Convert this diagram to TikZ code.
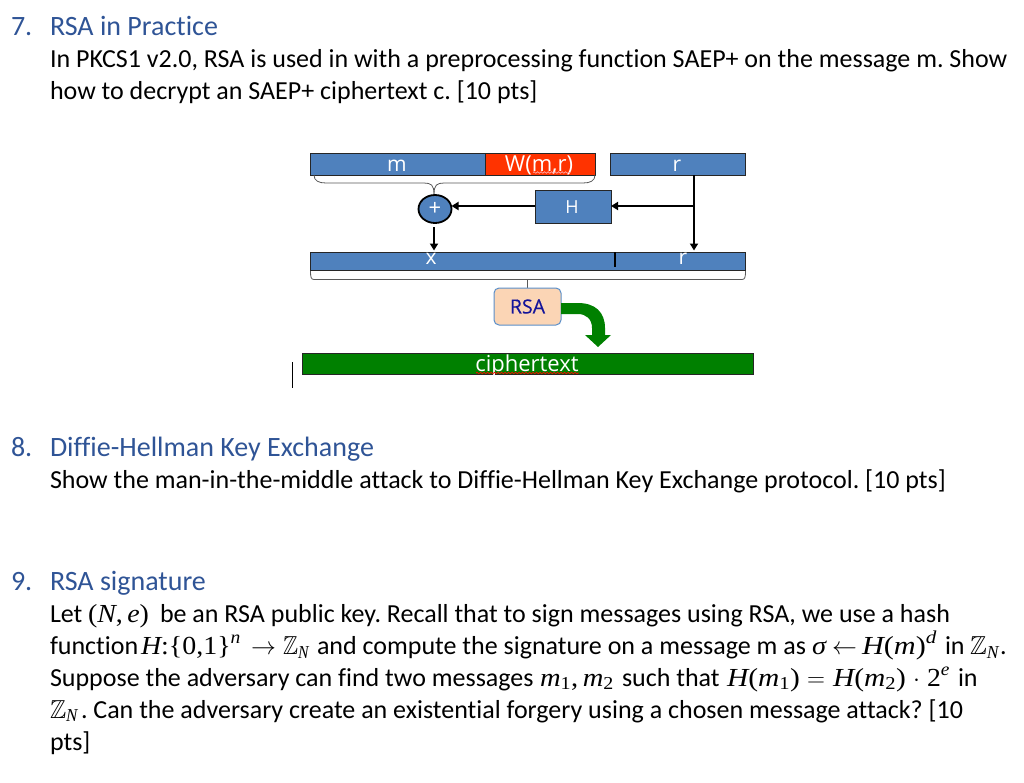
\documentclass[tikz,border=0pt]{standalone}
\usepackage{amsmath,amssymb,graphicx}
\usepackage{fontspec}
\setmainfont{Carlito}[RawFeature={-liga}]
\newfontfamily\boxfont{Open Sans}
\newfontfamily\boldboxfont{Open Sans}[FakeBold=0.35]
\newfontfamily\mfont{Liberation Serif}
\newcommand\mi[1]{\text{\mfont\itshape #1}}
\newcommand\mr[1]{\text{\mfont #1}}
\newcommand\fitw[2]{\resizebox{#1pt}{\height}{$#2$}}
\usetikzlibrary{arrows.meta,decorations.pathmorphing,shapes.geometric,calc}
\definecolor{barblue}{HTML}{4F81BD}
\definecolor{headblue}{HTML}{2F5496}
\definecolor{wred}{HTML}{FF3300}
\definecolor{cgreen}{HTML}{008000}
\definecolor{rsafill}{HTML}{FBD5B5}
\definecolor{rsaedge}{HTML}{5B8FC9}
\definecolor{rsatext}{HTML}{14149A}
\definecolor{bracegray}{HTML}{595959}
\tikzset{
 line/.style={anchor=base west,inner sep=0pt,outer sep=0pt,font=\fontsize{26}{30}\selectfont\frenchspacing,text=black},
 head/.style={anchor=base west,inner sep=0pt,outer sep=0pt,font=\fontsize{28}{32}\selectfont,text=headblue},
 bar/.style={draw=black!85,line width=0.9pt,fill=barblue,inner sep=0pt,outer sep=0pt,anchor=north west},
 lab/.style={inner sep=0pt,outer sep=0pt,anchor=base,font=\boxfont\fontsize{21}{24}\selectfont,text=white},
 conn/.style={line width=1.8pt,draw=black,-{Triangle[length=7pt,width=8pt]}},
 brace/.style={draw=bracegray,line width=0.8pt},
 squiggle/.style={draw=red,line width=0.7pt,decorate,decoration={snake,amplitude=0.8pt,segment length=3.5pt}}
}
\begin{document}
\begin{tikzpicture}[x=1pt,y=-1pt]
\useasboundingbox (0,0) rectangle (1024,782);
% text
\node[head] (n7) at (11,35) {7.};
\node[head] (t7) at (50,35) {RSA in Practice};
\node[line] (l1) at (50,67) {In PKCS1 v2.0, RSA is used in with a preprocessing function SAEP+ on the message m. Show};
\node[line] (l2) at (50,99) {how to decrypt an SAEP+ ciphertext c. [10 pts]};
\node[head] (n8) at (11,456) {8.};
\node[head] (t8) at (50,456) {Diffie-Hellman Key Exchange};
\node[line] (l3) at (50,488) {Show the man-in-the-middle attack to Diffie-Hellman Key Exchange protocol. [10 pts]};
\node[head] (n9) at (11,590) {9.};
\node[head] (t9) at (50,590) {RSA signature};
% line 4
\node[line] (l4a) at (50,622) {Let};
\node[line] (l4b) at (88,622) {\fitw{61}{\mr{(}\mi{N}\mr{,}\,\mi{e}\mr{)}}};
\node[line] (l4c) at (160,622) {be an RSA public key. Recall that to sign messages using RSA, we use a hash};
% line 5
\node[line] (l5a) at (50,654.5) {function};
\node[line] (l5b) at (141,654.5) {\fitw{100}{\mi{H}\mr{:}\mr{\{0,1\}}^{\mi{n}}}};
\node[line] (l5c) at (251,654.5) {$\to$};
\node[line] (l5d) at (283,654.5) {\fitw{26}{\mathbb{Z}_{\mi{N}}}};
\node[line] (l5e) at (317,654.5) {and compute the signature on a message m as};
\node[line] (l5f) at (812,654.5) {\fitw{14}{\mi{σ}}};
\node[line] (l5g) at (832,654.5) {$\leftarrow$};
\node[line] (l5h) at (862,654.5) {\fitw{75}{\mi{H}\mr{(}\mi{m}\mr{)}^{\mi{d}}}};
\node[line] (l5i) at (945,654.5) {in};
\node[line] (l5j) at (970,654.5) {\fitw{29}{\mathbb{Z}_{\mi{N}}}};
\node[line] (l5k) at (1000,654.5) {.};
% line 6
\node[line] (l6a) at (50,686) {Suppose the adversary can find two messages};
\node[line] (l6b) at (540,686) {\fitw{74}{\mi{m}_{\mr{1}}\mr{,}\,\mi{m}_{\mr{2}}}};
\node[line] (l6c) at (622,686) {such that};
\node[line] (l6d) at (727,686) {\fitw{73}{\mi{H}\mr{(}\mi{m}_{\mr{1}}\mr{)}}};
\node[line] (l6e) at (807,686) {$=$};
\node[line] (l6f) at (833,686) {\fitw{73}{\mi{H}\mr{(}\mi{m}_{\mr{2}}\mr{)}}};
\node[line] (l6g) at (913,686) {$\cdot$};
\node[line] (l6h) at (927,686) {\fitw{23}{\mr{2}^{\mi{e}}}};
\node[line] (l6i) at (958,686) {in};
% line 7, 8
\node[line] (l7a) at (50,718) {\fitw{28}{\mathbb{Z}_{\mi{N}}}};
\node[line] (l7b) at (81,718) {. Can the adversary create an existential forgery using a chosen message attack? [10};
\node[line] (l8) at (50,750) {pts]};
% top bars
\node[bar,minimum width=175pt,minimum height=22pt] (mbar) at (310,153) {};
\node[bar,fill=wred,minimum width=110pt,minimum height=22pt] (wbar) at (485,153) {};
\node[bar,minimum width=135pt,minimum height=22pt] (rbar) at (610,153) {};
\node[lab] (mlab) at (397,171) {m};
\node[lab,font=\boxfont\fontsize{22}{24}\selectfont] (wlab) at (539,171) {W(m,r)};
\node[lab] (rlab) at (677,171) {r};
\draw[squiggle,draw=red!35!white] (533,172.5) -- (570,172.5);
% H box, plus
\node[bar,line width=0.5pt,minimum width=76pt,minimum height=33pt] (hbox) at (535,190) {};
\node[lab,font=\boxfont\fontsize{18}{20}\selectfont] (hlab) at (572,213) {H};
\node[ellipse,draw=black,line width=1.8pt,fill=barblue,inner sep=0pt,outer sep=0pt,minimum width=33pt,minimum height=28pt,font=\boxfont\fontsize{22}{24}\selectfont,text=white] (plus) at (435,209) {+};
% lower bar
\node[bar,minimum width=435pt,minimum height=18pt] (xbar) at (310,252) {};
\node[lab] (xlab) at (431,264.5) {x};
\node[lab] (rlab2) at (683,264.5) {r};
\coordinate (tickT) at (615,252);
\coordinate (tickB) at (615,267);
\draw[line width=1.6pt,black] (tickT) -- (tickB);
% connectors
\coordinate (rdrop) at (694,175);
\coordinate (rbranch) at (694,206);
\coordinate (rend) at (694,250.5);
\coordinate (xout) at (434,227);
\coordinate (xend) at (434,250.5);
\draw[conn] (rdrop) -- (rend);
\draw[conn] (rbranch) -- (hbox.east |- rbranch);
\draw[conn] (hbox.west |- rbranch) -- (plus.east |- rbranch);
\draw[conn] (xout) -- (xend);
% braces
\draw[brace] (314,175) .. controls (314,181) and (319,183) .. (326,183) -- (424,183) .. controls (431,183) and (434,185) .. (434,194);
\draw[brace] (595,175) .. controls (595,181) and (590,183) .. (583,183) -- (444,183) .. controls (437,183) and (434,185) .. (434,194);
\draw[brace] (310.5,271) .. controls (310.5,277) and (311,279.5) .. (314,279.5) -- (742,279.5) .. controls (745,279.5) and (745.5,277) .. (745.5,271);
\draw[brace] (527,279.5) -- (527,288);
% RSA
\node[draw=rsaedge,line width=1pt,fill=rsafill,rounded corners=5pt,inner sep=0pt,outer sep=0pt,minimum width=67pt,minimum height=37pt,anchor=north west,font=\boldboxfont\fontsize{19.5}{22}\selectfont,text=rsatext] (rsa) at (494,288) {RSA};
% bent arrow
\fill[cgreen] (rsa.east |- 0,303) -- (578,303) .. controls (595,303) and (605,312) .. (605,328) -- (605,335) -- (611,335) -- (598,347) -- (585,335) -- (592,335) -- (592,328) .. controls (592,319) and (586,314) .. (578,314) -- (rsa.east |- 0,314) -- cycle;
% ciphertext
\node[bar,fill=cgreen,minimum width=451pt,minimum height=21pt] (cbar) at (302,353) {};
\node[lab,font=\boxfont\fontsize{22}{24}\selectfont] (clab) at (527,371) {ciphertext};
\draw[squiggle] (476,373) -- (579,373);
\coordinate (curT) at (292.5,362);
\coordinate (curB) at (292.5,388);
\draw[black,line width=0.8pt] (curT) -- (curB);
\end{tikzpicture}
\end{document}
